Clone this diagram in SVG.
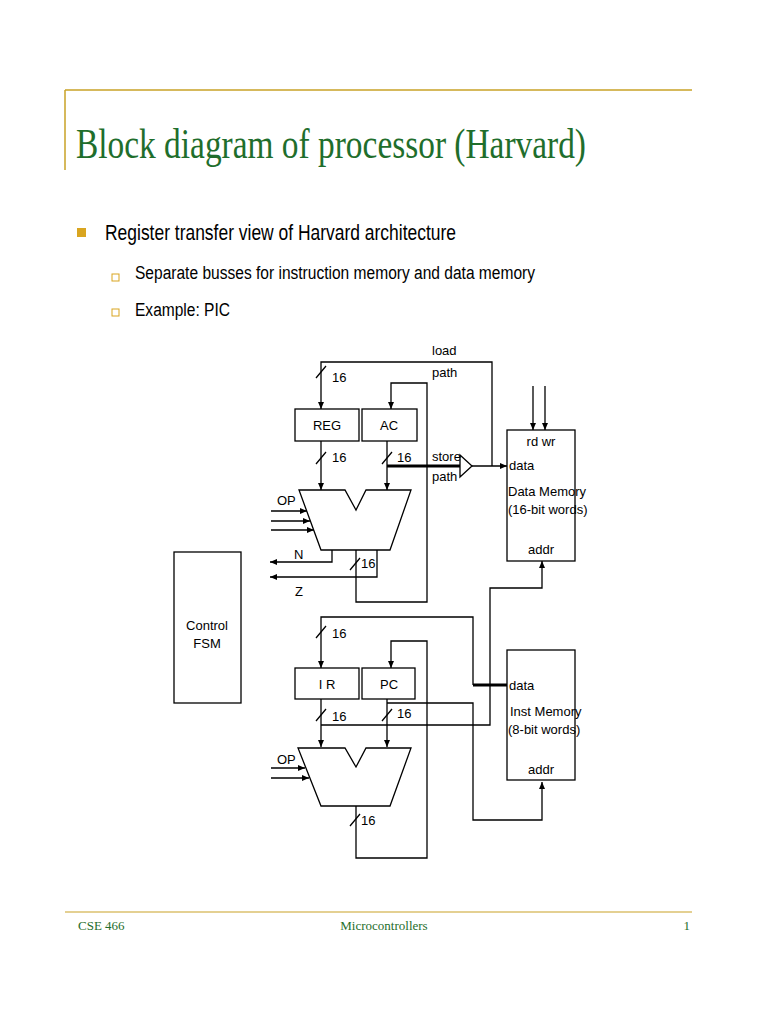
<svg xmlns="http://www.w3.org/2000/svg" width="768" height="1024" viewBox="0 0 768 1024">
<defs>
<marker id="ah" markerWidth="8" markerHeight="8" refX="7" refY="4" orient="auto" markerUnits="userSpaceOnUse"><path d="M0,1 L7,4 L0,7 Z" fill="#000"/></marker>
</defs>
<style>
.w{fill:none;stroke:#000;stroke-width:1.3}
.b{fill:#fff;stroke:#000;stroke-width:1.3}
.t{font-family:"Liberation Sans",Arial,sans-serif;font-size:13px;fill:#000}
.g{font-family:"Liberation Serif","Times New Roman",serif;font-size:13px;fill:#1f6e2c}
</style>
<rect width="768" height="1024" fill="#fff"/>
<g id="header">
<path d="M65,90 H692 M65,90 V170" stroke="#c9a227" stroke-width="1.5" fill="none"/>
<text x="76" y="158" font-family="Liberation Serif,serif" font-size="42" fill="#1f6e2c" textLength="510" lengthAdjust="spacingAndGlyphs">Block diagram of processor (Harvard)</text>
<rect x="77" y="228" width="9" height="9" fill="#d9a520"/>
<text x="105" y="240" font-family="Liberation Sans,sans-serif" font-size="22" textLength="351" lengthAdjust="spacingAndGlyphs">Register transfer view of Harvard architecture</text>
<rect x="112" y="274" width="7" height="7" fill="none" stroke="#d9a520" stroke-width="1"/>
<text x="135" y="279" font-family="Liberation Sans,sans-serif" font-size="18" textLength="400" lengthAdjust="spacingAndGlyphs">Separate busses for instruction memory and data memory</text>
<rect x="112" y="309" width="7" height="7" fill="none" stroke="#d9a520" stroke-width="1"/>
<text x="135" y="316" font-family="Liberation Sans,sans-serif" font-size="18" textLength="95" lengthAdjust="spacingAndGlyphs">Example: PIC</text>
</g>
<g id="connectors">
<path class="w" d="M492,466 V362 H321 V409" marker-end="url(#ah)"/>
<path class="w" d="M356,550 V602 H427 V383 H391 V409" marker-end="url(#ah)"/>
<path class="w" d="M321,441 V490" marker-end="url(#ah)"/>
<path class="w" d="M387,441 V490" marker-end="url(#ah)"/>
<path d="M387,466 H460" stroke="#000" stroke-width="3" fill="none"/>
<path class="b" d="M460,455 L472,466 L460,477 Z"/>
<path class="w" d="M472,466 H507" marker-end="url(#ah)"/>
<path class="w" d="M271,511 H307" marker-end="url(#ah)"/>
<path class="w" d="M271,521 H310" marker-end="url(#ah)"/>
<path class="w" d="M271,530 H314" marker-end="url(#ah)"/>
<path class="w" d="M332,550 V562 H270" marker-end="url(#ah)"/>
<path class="w" d="M377,550 V577 H270" marker-end="url(#ah)"/>
<path class="w" d="M533,386 V430" marker-end="url(#ah)"/>
<path class="w" d="M545,386 V430" marker-end="url(#ah)"/>
<path class="w" d="M321,725 H490 V588 H542 V561" marker-end="url(#ah)"/>
<path class="w" d="M473,685 V617 H321 V668" marker-end="url(#ah)"/>
<path d="M473,685 H507" stroke="#000" stroke-width="3" fill="none"/>
<path class="w" d="M321,699 V747" marker-end="url(#ah)"/>
<path class="w" d="M387,699 V747" marker-end="url(#ah)"/>
<path class="w" d="M387,703 H473 V820 H542 V782" marker-end="url(#ah)"/>
<path class="w" d="M356,806 V858 H427 V641 H391 V668" marker-end="url(#ah)"/>
<path class="w" d="M271,768 H305" marker-end="url(#ah)"/>
<path class="w" d="M271,778 H309" marker-end="url(#ah)"/>
<path class="w" d="M316,378 L326,366 M316,464 L326,452 M382,464 L392,452 M350,570 L360,558 M316,638 L326,626 M316,721 L326,709 M382,721 L392,709 M350,826 L360,814"/>
</g>
<g id="labels">
<text class="t" x="332" y="382">16</text>
<text class="t" x="332" y="462">16</text>
<text class="t" x="397" y="462">16</text>
<text class="t" x="361" y="568">16</text>
<text class="t" x="332" y="638">16</text>
<text class="t" x="332" y="721">16</text>
<text class="t" x="397" y="718">16</text>
<text class="t" x="361" y="825">16</text>
<text class="t" x="432" y="355">load</text>
<text class="t" x="432" y="377">path</text>
<text class="t" x="432" y="461">store</text>
<text class="t" x="432" y="481">path</text>
<text class="t" x="277" y="505">OP</text>
<text class="t" x="294" y="559">N</text>
<text class="t" x="295" y="596">Z</text>
<text class="t" x="277" y="764">OP</text>
</g>
<g id="reg"><rect class="b" x="295" y="409" width="64" height="32"/><text class="t" x="327" y="430" text-anchor="middle">REG</text></g>
<g id="ac"><rect class="b" x="362" y="409" width="55" height="32"/><text class="t" x="389" y="430" text-anchor="middle">AC</text></g>
<g id="alu1"><path class="b" d="M299,490 H345 L356,510 L366,490 H411 L390,550 H321 Z"/></g>
<g id="ir"><rect class="b" x="295" y="668" width="64" height="31"/><text class="t" x="327" y="689" text-anchor="middle">I R</text></g>
<g id="pc"><rect class="b" x="362" y="668" width="53" height="31"/><text class="t" x="389" y="689" text-anchor="middle">PC</text></g>
<g id="alu2"><path class="b" d="M298,748 H345 L356,767 L366,748 H411 L390,806 H321 Z"/></g>
<g id="dmem"><rect class="b" x="507" y="430" width="68" height="131"/>
<text class="t" x="541" y="446" text-anchor="middle">rd  wr</text>
<text class="t" x="509" y="470">data</text>
<text class="t" x="508" y="496">Data Memory</text>
<text class="t" x="508" y="514">(16-bit words)</text>
<text class="t" x="541" y="554" text-anchor="middle">addr</text></g>
<g id="imem"><rect class="b" x="507" y="650" width="68" height="130"/>
<text class="t" x="509" y="690">data</text>
<text class="t" x="510" y="716">Inst Memory</text>
<text class="t" x="508" y="734">(8-bit words)</text>
<text class="t" x="541" y="774" text-anchor="middle">addr</text></g>
<g id="fsm"><rect class="b" x="174" y="552" width="67" height="151"/>
<text class="t" x="207" y="630" text-anchor="middle">Control</text>
<text class="t" x="207" y="648" text-anchor="middle">FSM</text></g>
<g id="footer">
<path d="M65,912 H692" stroke="#c9a227" stroke-width="1.2"/>
<text class="g" x="78" y="930">CSE 466</text>
<text class="g" x="384" y="930" text-anchor="middle">Microcontrollers</text>
<text class="g" x="690" y="930" text-anchor="end">1</text>
</g>
</svg>
